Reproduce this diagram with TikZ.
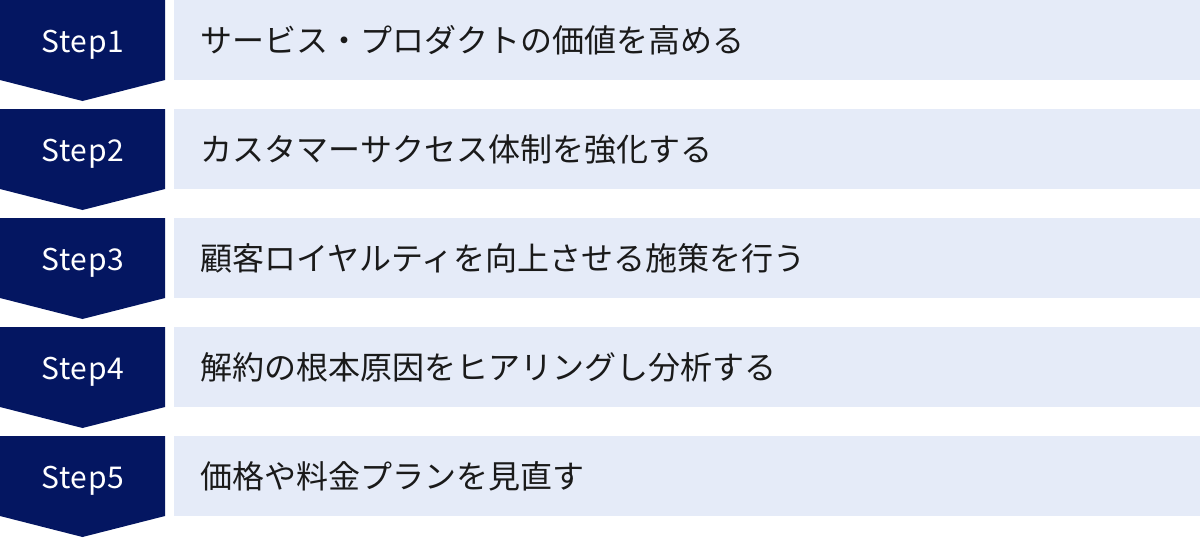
\documentclass[tikz,border=0pt]{standalone}
\usepackage{fontspec}
\setmainfont{Noto Sans CJK JP}
\definecolor{navy}{HTML}{041661}
\definecolor{lightbox}{HTML}{E5EBF8}
\definecolor{txt}{HTML}{1A1A1A}
\tikzset{
  chevron/.style={fill=navy, draw=none},
  stepbox/.style={fill=lightbox, draw=none, inner sep=0pt, anchor=north west,
    minimum width=1026pt, minimum height=80pt},
  steplabel/.style={text=white, font=\fontsize{30}{32}\selectfont\addfontfeature{LetterSpace=3}, inner sep=0pt},
  itemtext/.style={text=txt, font=\fontsize{32}{34}\selectfont, inner sep=0pt, anchor=west}
}
\begin{document}
\begin{tikzpicture}[x=1pt,y=-1pt]
\useasboundingbox (0,0) rectangle (1200,538);
\foreach \i/\lab/\txt in {
  0/Step1/サービス・プロダクトの価値を高める,
  1/Step2/カスタマーサクセス体制を強化する,
  2/Step3/顧客ロイヤルティを向上させる施策を行う,
  3/Step4/解約の根本原因をヒアリングし分析する,
  4/Step5/価格や料金プランを見直す}{
  \pgfmathsetmacro{\t}{109*\i}
  \fill[chevron] (0,\t) -- (165,\t) -- (165,\t+80) -- (82.5,\t+101) -- (0,\t+80) -- cycle;
  \node[steplabel] (s\i) at (82.8,\t+45) {\lab};
  \node[stepbox] (b\i) at (174,\t) {};
  \node[itemtext] (t\i) at (200.5,\t+40.5) {\txt};
}
\end{tikzpicture}
\end{document}
